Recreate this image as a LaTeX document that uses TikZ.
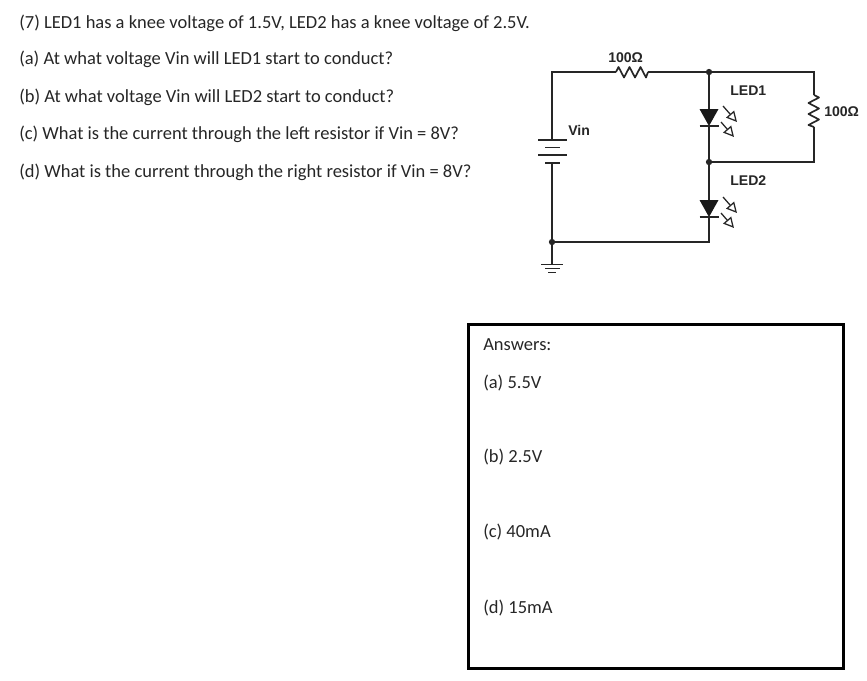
\documentclass[tikz,border=0pt]{standalone}
\usepackage{fontspec}
\setmainfont{Carlito}
\newfontfamily\partfont{Liberation Sans}[BoldFont={Liberation Sans Bold}]
\usetikzlibrary{arrows.meta}
\tikzset{
  txt/.style={anchor=base west,inner sep=0pt,font=\fontsize{13.15}{15}\selectfont,text=black!85},
  partlabel/.style={anchor=base west,inner sep=0pt,font=\partfont\bfseries\fontsize{10}{12}\selectfont,text=black!85},
  wire/.style={line width=1.2pt,black!85},
  junction/.style={circle,fill=black!85,inner sep=0pt,minimum size=4.5pt},
  lightray/.style={line width=0.9pt,black!85,-{Triangle[open,length=7.5pt,width=7.5pt]}},
  led/.pic={
    \coordinate (-a) at (0,0);
    \coordinate (-k) at (0,17);
    \fill[black!90] (-9.5,0) -- (9.5,0) -- (0,17) -- cycle;
    \draw[wire] (-9.5,17) -- (9.5,17);
    \draw[lightray] (14,-3) -- (28,13);
    \draw[lightray] (12,13) -- (25,28);
  },
  resistor/.pic={
    \coordinate (-a) at (0,0);
    \coordinate (-b) at (32,0);
    \draw[wire,line join=round] (0,0) -- (2.5,-5) -- (8,5.5) -- (13.5,-5) -- (19,5.5) -- (24.5,-5) -- (30,5.5) -- (32,0);
  },
}
\begin{document}
\begin{tikzpicture}[x=0.025cm,y=-0.025cm]
  \useasboundingbox (0,0) rectangle (867,680);
  % question text
  \node[txt] (q0) at (19,28) {(7) LED1 has a knee voltage of 1.5V, LED2 has a knee voltage of 2.5V.};
  \node[txt] (qa) at (19,64) {(a) At what voltage Vin will LED1 start to conduct?};
  \node[txt] (qb) at (19,102) {(b) At what voltage Vin will LED2 start to conduct?};
  \node[txt] (qc) at (19,139) {(c) What is the current through the left resistor if Vin = 8V?};
  \node[txt] (qd) at (19,177) {(d) What is the current through the right resistor if Vin = 8V?};
  % circuit
  \coordinate (cornerTL) at (552,72);
  \coordinate (cornerTR) at (814,72);
  \coordinate (cornerMR) at (814,162);
  \node[junction] (top) at (709,72) {};
  \node[junction] (mid) at (709,162) {};
  \coordinate (botR) at (709,242);
  \node[junction] (botL) at (552,242) {};
  \pic (R1) at (616,72) {resistor};
  \pic[rotate=-90] (R2) at (814,95) {resistor};
  \pic (L1) at (709,109) {led};
  \pic (L2) at (709,200) {led};
  % battery
  \coordinate (batTop) at (552,140);
  \coordinate (batBot) at (552,163);
  \draw[wire] (538,140) -- (567,140);
  \draw[wire] (545,147.5) -- (560,147.5);
  \draw[wire] (538,155) -- (567,155);
  \draw[wire] (545,163) -- (560,163);
  % ground
  \coordinate (gnd) at (552,264.5);
  \draw[wire] (541,264.5) -- (563,264.5);
  \draw[wire] (545,268.5) -- (560,268.5);
  \draw[wire] (548,272.5) -- (556,272.5);
  % wires
  \draw[wire] (batTop) -- (cornerTL) -- (R1-a);
  \draw[wire] (R1-b) -- (top) -- (cornerTR) -- (R2-a);
  \draw[wire] (R2-b) -- (cornerMR) -- (mid);
  \draw[wire] (top) -- (L1-a);
  \draw[wire] (L1-k) -- (mid);
  \draw[wire] (mid) -- (L2-a);
  \draw[wire] (L2-k) -- (botR) -- (botL);
  \draw[wire] (batBot) -- (botL) -- (gnd);
  % labels
  \node[partlabel] (r1val) at (608,62) {100Ω};
  \node[partlabel] (r2val) at (824,116) {100Ω};
  \node[partlabel] (vin) at (568,135) {Vin};
  \node[partlabel] (l1val) at (730,95) {LED1};
  \node[partlabel] (l2val) at (730,185) {LED2};
  % answers
  \node[draw=black,line width=2.2pt,minimum width=9.375cm,anchor=north west,inner sep=0pt,minimum height=8.6cm] (box) at (467,323) {};
  \node[txt] (ans) at (483,350) {Answers:};
  \node[txt] (aa) at (483,388) {(a) 5.5V};
  \node[txt] (ab) at (483,462) {(b) 2.5V};
  \node[txt] (ac) at (483,537) {(c) 40mA};
  \node[txt] (ad) at (483,613) {(d) 15mA};
\end{tikzpicture}
\end{document}
